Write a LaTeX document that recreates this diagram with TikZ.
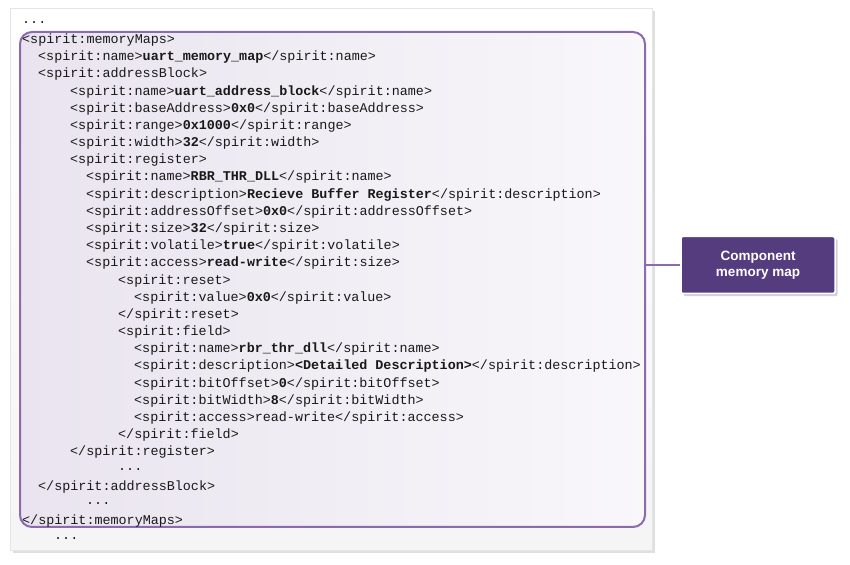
\documentclass[tikz,border=0pt]{standalone}
\usepackage{fontspec}
\setmainfont{Liberation Sans}
\newfontfamily\codefont{Liberation Mono}
\usetikzlibrary{shadows}
\definecolor{mpurple}{HTML}{553C7F}
\definecolor{mborder}{HTML}{8B6AAE}
\definecolor{mlav}{HTML}{E9E4EF}
\begin{document}
\begin{tikzpicture}[x=1pt,y=1pt,
  code/.style={anchor=west,inner sep=0pt,font=\codefont\fontsize{13.4}{15}\selectfont,text=black!90},
  label/.style={fill=mpurple,text=white,font=\bfseries\fontsize{13.5}{15.5}\selectfont,align=center,minimum width=154pt,minimum height=57pt,rounded corners=2pt,draw=white,line width=1.5pt,drop shadow={opacity=0.35}}]
\useasboundingbox (0,0) rectangle (850,564);
\fill[white] (0,0) rectangle (850,564);
\node[draw=black!10,top color=white,bottom color=black!4,minimum width=642pt,minimum height=542pt,drop shadow={opacity=0.25},inner sep=0pt] (panel) at (331,285) {};
\node[draw=mborder,line width=2pt,rounded corners=12pt,left color=mlav,right color=mlav!30,minimum width=625pt,minimum height=495pt,inner sep=0pt] (inner) at (332.5,284.5) {};
\node[label] (comp) at (758,299) {Component\\memory map};
\draw[mborder,line width=2pt] (comp.west) -- (comp.west -| inner.east);
\def\cw{8.0}
\foreach \n/\ind/\t [count=\i from 0] in {
 0/0/{...},
 1/0/{<spirit:memoryMaps>},
 2/2/{<spirit:name>\textbf{uart\_memory\_map}</spirit:name>},
 3/2/{<spirit:addressBlock>},
 4/6/{<spirit:name>\textbf{uart\_address\_block}</spirit:name>},
 5/6/{<spirit:baseAddress>\textbf{0x0}</spirit:baseAddress>},
 6/6/{<spirit:range>\textbf{0x1000}</spirit:range>},
 7/6/{<spirit:width>\textbf{32}</spirit:width>},
 8/6/{<spirit:register>},
 9/8/{<spirit:name>\textbf{RBR\_THR\_DLL}</spirit:name>},
 10/8/{<spirit:description>\textbf{Recieve Buffer Register}</spirit:description>},
 11/8/{<spirit:addressOffset>\textbf{0x0}</spirit:addressOffset>},
 12/8/{<spirit:size>\textbf{32}</spirit:size>},
 13/8/{<spirit:volatile>\textbf{true}</spirit:volatile>},
 14/8/{<spirit:access>\textbf{read-write}</spirit:size>},
 15/12/{<spirit:reset>},
 16/14/{<spirit:value>\textbf{0x0}</spirit:value>},
 17/12/{</spirit:reset>},
 18/12/{<spirit:field>},
 19/14/{<spirit:name>\textbf{rbr\_thr\_dll}</spirit:name>},
 20/14/{<spirit:description>\textbf{<Detailed Description>}</spirit:description>},
 21/14/{<spirit:bitOffset>\textbf{0}</spirit:bitOffset>},
 22/14/{<spirit:bitWidth>\textbf{8}</spirit:bitWidth>},
 23/14/{<spirit:access>read-write</spirit:access>},
 24/12/{</spirit:field>},
 25/6/{</spirit:register>},
 26/12/{...},
 27/2/{</spirit:addressBlock>},
 28/8/{...},
 29/0/{</spirit:memoryMaps>},
 30/4/{...}}
 { \node[code] (l\n) at ({22+\ind*\cw},{541-\n*17.17}) {\t}; }
\end{tikzpicture}
\end{document}
